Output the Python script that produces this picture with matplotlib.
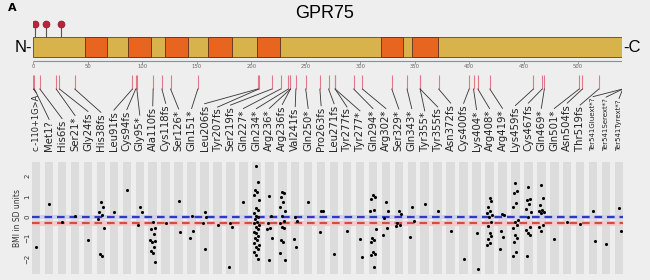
import matplotlib.pyplot as plt
import numpy as np
from matplotlib.patches import Rectangle

plt.rcParams['lines.scale_dashes'] = False

# mutation labels (one column each in the lower panel)
labels = ['c.-110+1G>A', 'Met1?', 'His6fs', 'Ser21*', 'Gly24fs', 'His38fs', 'Leu91fs',
          'Cys94fs', 'Gly95*', 'Ala110fs', 'Cys118fs', 'Ser126*', 'Gln151*', 'Leu206fs',
          'Tyr207fs', 'Ser219fs', 'Gln227*', 'Gln234*', 'Arg236*', 'Arg236fs', 'Val241fs',
          'Gln250*', 'Pro263fs', 'Leu271fs', 'Tyr277fs', 'Tyr277*', 'Gln294*', 'Arg302*',
          'Ser329*', 'Gln343*', 'Tyr355*', 'Tyr355fs', 'Asn372fs', 'Cys400fs', 'Lys404*',
          'Arg408*', 'Arg419*', 'Lys459fs', 'Cys467fs', 'Gln469*', 'Gln501*', 'Asn504fs',
          'Thr519fs', 'Ter541Gluext*?', 'Ter541Serext*?', 'Ter541Tyrext*?']

# amino acid position of each mutation
mut_pos = [0, 1, 6, 21, 24, 38, 91, 94, 95, 110, 118, 126, 151, 206, 207, 219, 227, 234,
           236, 236, 241, 250, 263, 271, 277, 277, 294, 302, 329, 343, 355, 355, 372, 400,
           404, 408, 419, 459, 467, 469, 501, 504, 519, 541, 541, 541]

# BMI (SD units) of carriers, per mutation
bmi = [
    [-1.43],
    [0.64],
    [-0.24],
    [0.06],
    [-1.12],
    [0.71, 0.48, 0.24, 0.08, -0.08, -0.51, -1.78, -1.88],
    [0.24],
    [1.30],
    [0.50, 0.22, -0.39],
    [-0.22, -0.51, -0.56, -0.82, -1.11, -1.14, -1.22, -1.45, -1.65, -1.73, -2.18],
    [-0.27],
    [0.77, -0.72],
    [0.06, -0.67, -1.00],
    [0.24, 0.02, -0.30, -1.56],
    [-0.39],
    [-0.27, -0.48, -2.43],
    [0.71],
    [2.46, 1.70, 1.30, 1.22, 1.06, 0.82, 0.42, 0.34, 0.18, 0.05, -0.02, -0.11, -0.22, -0.31,
     -0.39, -0.47, -0.59, -0.71, -0.79, -0.92, -1.03, -1.11, -1.24, -1.35, -1.46, -1.56,
     -1.67, -1.83, -2.04],
    [1.01, 0.05, -0.31, -0.51, -0.59, -1.03, -2.07],
    [1.22, 1.14, 0.95, 0.71, 0.50, 0.29, 0.06, -0.18, -0.31, -0.47, -0.55, -1.11, -1.19,
     -1.75, -2.07],
    [-0.02, -0.19, -1.08, -1.43],
    [0.74],
    [0.29, 0.29, -0.71],
    [-1.78],
    [-0.67],
    [-1.06, -1.94],
    [1.06, 0.98, 0.85, 0.34, 0.29, -0.58, -1.03, -1.11, -1.19, -1.67, -1.78, -1.85, -2.43],
    [0.71, 0.29, -0.03, -0.55, -0.87],
    [0.29, 0.14, -0.27, -0.37, -0.43],
    [0.50, -0.18, -0.98],
    [0.63],
    [0.29],
    [-0.66],
    [-2.04],
    [-0.76, -2.51],
    [0.90, 0.79, 0.47, 0.31, 0.18, 0.08, 0.02, -0.22, -0.43, -0.79, -0.92, -1.08, -1.27, -1.35],
    [0.13, 0.08, -0.66, -0.98, -1.54],
    [1.65, 1.27, 1.14, 0.66, 0.50, -0.14, -0.22, -0.39, -0.51, -0.87, -1.00, -1.21, -1.70, -1.88],
    [1.43, 0.85, 0.80, 0.63, 0.37, 0.26, 0.02, -0.47, -0.63, -0.79, -0.87, -1.86],
    [1.53, 0.90, 0.58, 0.34, 0.29, 0.24, 0.18, -0.39, -0.47, -0.67],
    [-1.08],
    [-0.22],
    [-0.34],
    [0.27, -1.16],
    [-1.29],
    [0.42, -0.66],
]

protein_len = 540
tm_domains = [(47, 68), (87, 108), (121, 142), (160, 182), (205, 226), (319, 339), (348, 371)]
sites = [2, 12, 25]
pop_mean = 0.0
carrier_mean = -0.29

W, H = 650, 280
bg = '#eeeeee'
fig = plt.figure(figsize=(6.5, 2.8), dpi=100, facecolor=bg)

# ---- lower panel: BMI strip plot ----
ax_b = fig.add_axes([31.9 / W, 6 / H, 591.4 / W, 112.3 / H])
n = len(labels)
ax_b.set_xlim(-0.33, n - 1 + 0.33)
ax_b.set_ylim(-2.75, 2.67)
ax_b.set_facecolor('none')
for i in range(n):
    ax_b.axvspan(i - 0.33, i + 0.33, color='#dcdcdc', lw=0, zorder=0)
ax_b.axhspan(pop_mean - 0.11, pop_mean + 0.11, color='#cdd2ee', lw=0, zorder=1)
ax_b.axhspan(carrier_mean - 0.12, carrier_mean + 0.12, color='#f2cccc', lw=0, zorder=1)
ax_b.axhline(pop_mean, color='#3636c4', lw=1.6, dashes=(5.5, 3.5), zorder=2)
ax_b.axhline(carrier_mean, color='#d84a4a', lw=1.6, dashes=(5.5, 3.5), zorder=2)

jit = [0.0, 0.14, -0.12, 0.07, -0.2, 0.2, -0.05, 0.1, -0.15]
for i, vals in enumerate(bmi):
    xs = [i + jit[k % len(jit)] for k in range(len(vals))]
    ax_b.scatter(xs, vals, s=5, color='black', lw=0, zorder=3)

for s in ax_b.spines.values():
    s.set_visible(False)
ax_b.set_xticks([])
ax_b.set_yticks([-2, -1, 0, 1, 2])
ax_b.tick_params(axis='y', length=0, pad=1, labelsize=5, labelcolor='#333333')
plt.setp(ax_b.get_yticklabels(), rotation=90, va='center')
ax_b.set_ylabel('BMI in SD units', fontsize=5.5, labelpad=2, color='#333333')

# ---- upper panel: protein diagram (x in amino acids, y in pixels from top) ----
ax_t = fig.add_axes([33.3 / W, 120 / H, 588.4 / W, 160 / H])
ax_t.set_xlim(0, protein_len)
ax_t.set_ylim(160, 0)
ax_t.axis('off')

bar_y, bar_h = 37.3, 19.4
ax_t.add_patch(Rectangle((0, bar_y), protein_len, bar_h, fc='#d8b24a', ec='#6e5a2a', lw=0.7))
for s, e in tm_domains:
    ax_t.add_patch(Rectangle((s, bar_y), e - s, bar_h, fc='#e8651f', ec='#6e3a1a', lw=0.7))

ax_t.vlines(sites, 24, bar_y, color='#555555', lw=0.8)
ax_t.plot(sites, [24] * len(sites), 'o', color='#b8243a', ms=5, mec='#8a1a2a', mew=0.5)

ax_t.text(-1, 47, 'N-', ha='right', va='center', fontsize=12, family='Liberation Sans')
ax_t.text(protein_len + 1, 47, '-C', ha='left', va='center', fontsize=12, family='Liberation Sans')

ticks = list(range(0, 501, 50))
ax_t.hlines(61, 0, protein_len, color='#8a8ab8', lw=0.8)
ax_t.vlines(ticks + [protein_len], 61, 63.5, color='#8a8ab8', lw=0.6)
for t in ticks:
    ax_t.text(t, 67, str(t), ha='center', va='center', fontsize=3.8, color='#666666')

ax_t.vlines(mut_pos, 75, 89, color='#e0788a', lw=0.8)

# label x positions follow the columns of the lower panel
disp = ax_b.transData.transform(np.column_stack([np.arange(n), np.zeros(n)]))[:, 0]
label_x = ax_t.transData.inverted().transform(np.column_stack([disp, np.zeros(n)]))[:, 0]

texts = []
for lx, lab in zip(label_x, labels):
    if lab.startswith('Ter'):
        fs = 5
    elif lab.startswith('c.'):
        fs = 6
    else:
        fs = 7.3
    texts.append(ax_t.text(lx, 151, lab, rotation=90, ha='center', va='bottom',
                           fontsize=fs, color='#222222'))

fig.canvas.draw()
inv = ax_t.transData.inverted()
for t, lx, p in zip(texts, label_x, mut_pos):
    bb = t.get_window_extent()
    top = inv.transform((0, bb.y1))[1]
    ax_t.plot([p, lx], [89, top - 1], color='#333333', lw=0.6)

fig.text(0.5, 1 - 13 / H, 'GPR75', ha='center', va='center', fontsize=13, family='Liberation Sans')
fig.text(12 / W, 1 - 8 / H, 'A', ha='center', va='center', fontsize=8, fontweight='bold')

fig.savefig('out.png', dpi=100, facecolor=fig.get_facecolor())
